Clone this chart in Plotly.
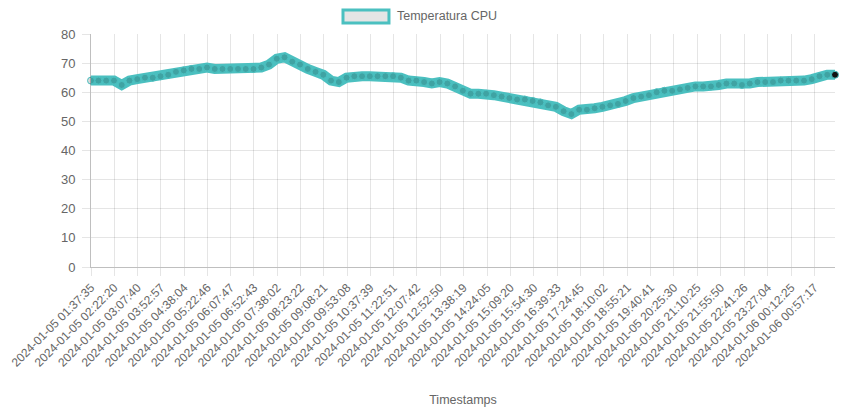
"""CPU temperature line chart (Chart.js look) rebuilt with Plotly."""
import plotly.graph_objects as go

TEAL = "rgb(75,192,192)"
GRID = "rgba(0,0,0,0.1)"
TXT = "#666"
FONT = "Liberation Sans, Arial, sans-serif"

# readings every ~15 min
times = [
    "2024-01-05 01:37:35", "2024-01-05 01:52", "2024-01-05 02:07", "2024-01-05 02:22",
    "2024-01-05 02:37", "2024-01-05 02:52", "2024-01-05 03:07", "2024-01-05 03:22",
    "2024-01-05 03:37", "2024-01-05 03:52", "2024-01-05 04:07", "2024-01-05 04:22",
    "2024-01-05 04:37", "2024-01-05 04:52", "2024-01-05 05:07", "2024-01-05 05:22",
    "2024-01-05 05:37", "2024-01-05 05:52", "2024-01-05 06:07", "2024-01-05 06:22",
    "2024-01-05 06:37", "2024-01-05 06:52", "2024-01-05 07:07", "2024-01-05 07:22",
    "2024-01-05 07:37", "2024-01-05 07:52", "2024-01-05 08:07", "2024-01-05 08:22",
    "2024-01-05 08:37", "2024-01-05 08:52", "2024-01-05 09:07", "2024-01-05 09:22",
    "2024-01-05 09:37", "2024-01-05 09:52", "2024-01-05 10:07", "2024-01-05 10:22",
    "2024-01-05 10:37", "2024-01-05 10:52", "2024-01-05 11:07", "2024-01-05 11:22",
    "2024-01-05 11:37", "2024-01-05 11:52", "2024-01-05 12:07", "2024-01-05 12:22",
    "2024-01-05 12:37", "2024-01-05 12:52", "2024-01-05 13:07", "2024-01-05 13:22",
    "2024-01-05 13:37", "2024-01-05 13:52", "2024-01-05 14:07", "2024-01-05 14:22",
    "2024-01-05 14:37", "2024-01-05 14:52", "2024-01-05 15:07", "2024-01-05 15:22",
    "2024-01-05 15:37", "2024-01-05 15:52", "2024-01-05 16:07", "2024-01-05 16:22",
    "2024-01-05 16:37", "2024-01-05 16:52", "2024-01-05 17:07", "2024-01-05 17:22",
    "2024-01-05 17:37", "2024-01-05 17:52", "2024-01-05 18:07", "2024-01-05 18:22",
    "2024-01-05 18:37", "2024-01-05 18:52", "2024-01-05 19:07", "2024-01-05 19:22",
    "2024-01-05 19:37", "2024-01-05 19:52", "2024-01-05 20:07", "2024-01-05 20:22",
    "2024-01-05 20:37", "2024-01-05 20:52", "2024-01-05 21:07", "2024-01-05 21:22",
    "2024-01-05 21:37", "2024-01-05 21:52", "2024-01-05 22:07", "2024-01-05 22:22",
    "2024-01-05 22:37", "2024-01-05 22:52", "2024-01-05 23:07", "2024-01-05 23:22",
    "2024-01-05 23:37", "2024-01-05 23:52", "2024-01-06 00:07", "2024-01-06 00:22",
    "2024-01-06 00:37", "2024-01-06 00:52", "2024-01-06 01:07", "2024-01-06 01:22",
    "2024-01-06 01:37",
]
temps = [
    64, 64, 64, 64, 62.5, 64, 64.5, 65, 65, 65.5, 66, 67,
    67.5, 68, 68, 68.5, 68, 68, 68, 68, 68, 68, 68.5, 69.5,
    71.5, 72, 70.5, 69.5, 68, 67, 66, 64, 63.5, 65, 65.5, 65.5,
    65.5, 65.5, 65.5, 65.5, 65, 64, 64, 63.5, 63, 63.5, 63, 62,
    60.5, 59.5, 59.5, 59.5, 59, 58.5, 58, 57.5, 57.5, 57, 56.5, 55.5,
    55, 53.5, 52.5, 54, 54, 54.5, 55, 55.5, 56, 57, 58, 58.5,
    59, 60, 60.5, 60.5, 61, 61.5, 62, 62, 62, 62.5, 63, 63,
    62.5, 63, 63.5, 63.5, 63.5, 64, 64, 64, 64, 64.5, 65.5, 66,
    66,
]

# x-axis labels shown by the original (auto-skipped categories)
tick_labels = [
    "2024-01-05 01:37:35", "2024-01-05 02:22:20", "2024-01-05 03:07:40",
    "2024-01-05 03:52:57", "2024-01-05 04:38:04", "2024-01-05 05:22:46",
    "2024-01-05 06:07:47", "2024-01-05 06:52:43", "2024-01-05 07:38:02",
    "2024-01-05 08:23:22", "2024-01-05 09:08:21", "2024-01-05 09:53:08",
    "2024-01-05 10:37:39", "2024-01-05 11:22:51", "2024-01-05 12:07:42",
    "2024-01-05 12:52:50", "2024-01-05 13:38:19", "2024-01-05 14:24:05",
    "2024-01-05 15:09:20", "2024-01-05 15:54:30", "2024-01-05 16:39:33",
    "2024-01-05 17:24:45", "2024-01-05 18:10:02", "2024-01-05 18:55:21",
    "2024-01-05 19:40:41", "2024-01-05 20:25:30", "2024-01-05 21:10:25",
    "2024-01-05 21:55:50", "2024-01-05 22:41:26", "2024-01-05 23:27:04",
    "2024-01-06 00:12:25", "2024-01-06 00:57:17",
]
y_ticks = [0, 10, 20, 30, 40, 50, 60, 70, 80]

# point fill is the faint chart.js default; the last one shows up dark
marker_fill = ["rgba(0,0,0,0.15)"] * (len(temps) - 1) + ["#111"]

fig = go.Figure(go.Scatter(
    x=times, y=temps, mode="lines+markers", name="Temperatura CPU",
    line=dict(color=TEAL, width=10),
    marker=dict(size=7, color=marker_fill, line=dict(color=TEAL, width=1)),
    showlegend=False, cliponaxis=False,
))

# chart.js style legend: box + label above the plot
fig.add_shape(type="rect", xref="paper", yref="paper",
              x0=0.3387, x1=0.4005, y0=1.047, y1=1.103,
              line=dict(color=TEAL, width=3), fillcolor="rgba(0,0,0,0.1)")
fig.add_annotation(xref="paper", yref="paper", x=0.409, y=1.077,
                   text="Temperatura CPU", showarrow=False,
                   xanchor="left", yanchor="middle",
                   font=dict(family=FONT, size=12.5, color=TXT))

# the page body adds an 8px margin, so the figure is 8px smaller than the window
fig.update_layout(
    width=839, height=404,
    margin=dict(l=83, r=12, t=26, b=145),
    paper_bgcolor="white", plot_bgcolor="white",
    font=dict(family=FONT, size=12, color=TXT),
    xaxis=dict(
        type="date", range=[times[0], times[-1]], automargin=False,
        tickvals=tick_labels, ticktext=tick_labels, tickangle=-45,
        tickfont=dict(size=12), ticklabeloverflow="allow",
        showgrid=True, gridcolor=GRID, gridwidth=1,
        ticks="outside", ticklen=8, tickcolor=GRID,
        showline=True, linecolor="rgba(0,0,0,0.25)", linewidth=1,
        zeroline=False,
        title=dict(text="Timestamps", font=dict(size=12.5, color=TXT), standoff=26),
    ),
    yaxis=dict(
        range=[0, 80], tickvals=y_ticks, automargin=False,
        showgrid=True, gridcolor=GRID, gridwidth=1,
        ticks="outside", ticklen=8, tickcolor=GRID,
        showline=True, linecolor="rgba(0,0,0,0.25)", linewidth=1,
        zeroline=False, ticklabelstandoff=4,
        tickfont=dict(size=13),
    ),
)

fig.write_html("out.html")
